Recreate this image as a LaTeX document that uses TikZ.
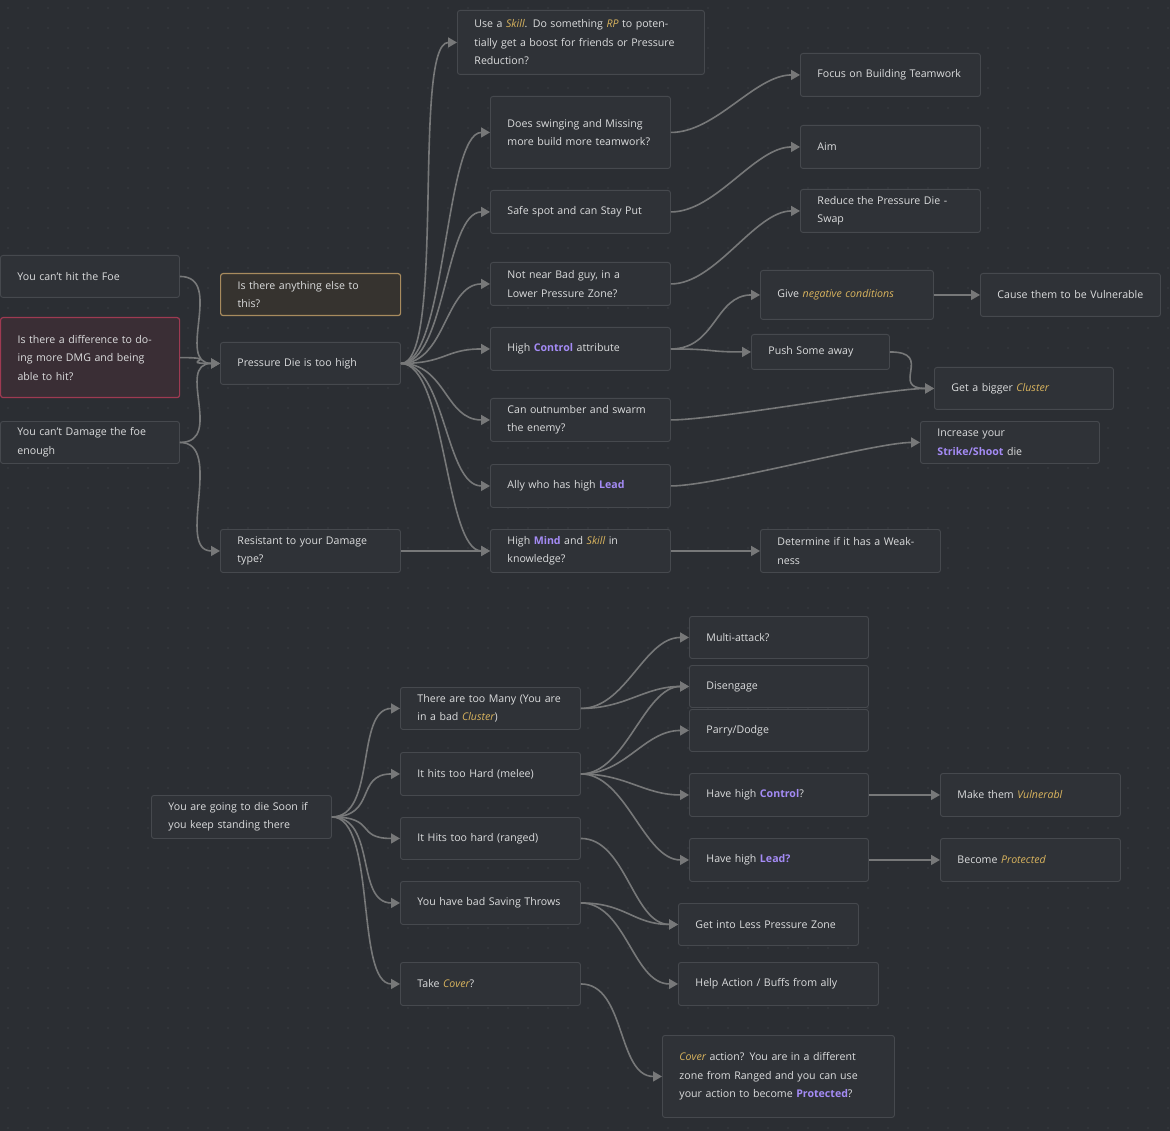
\documentclass[tikz,border=0pt]{standalone}
\usepackage{fontspec}
\setmainfont{Open Sans}
\usetikzlibrary{arrows.meta}
\definecolor{bg}{HTML}{2B2E33}
\definecolor{bfill}{HTML}{2F3237}
\definecolor{bline}{HTML}{46494E}
\definecolor{txt}{HTML}{DCDDDE}
\definecolor{edge}{HTML}{777879}
\definecolor{gold}{HTML}{D9B45E}
\definecolor{purp}{HTML}{A48BF5}
\definecolor{dotc}{HTML}{3A3D42}
\definecolor{redl}{HTML}{9E3A52}
\definecolor{redf}{HTML}{3A2E35}
\definecolor{orl}{HTML}{A88B5E}
\definecolor{orf}{HTML}{36332F}
\newcommand{\gd}[1]{\textcolor{gold}{\itshape #1}}
\newcommand{\pp}[1]{\textcolor{purp}{\bfseries #1}}
\tikzset{
 box/.style={draw=bline, fill=bfill, rounded corners=2.5pt, line width=0.9pt, text=txt, align=left, font=\fontsize{10.6}{18.5}\selectfont, inner ysep=0pt, inner xsep=17pt, anchor=north west},
 redbox/.style={box, draw=redl, fill=redf, line width=1.2pt},
 orbox/.style={box, draw=orl, fill=orf, line width=1.2pt},
 con/.style={draw=edge, line width=1.6pt, -{Triangle[length=9pt,width=10pt]}},
}
\newcommand{\bx}[7][]{%
 \pgfmathsetmacro{\ww}{#5-#3}\pgfmathsetmacro{\hh}{#6-#4}\pgfmathsetmacro{\tw}{#5-#3-34}%
 \node[box,#1,minimum width=\ww pt,minimum height=\hh pt,text width=\tw pt] (#2) at (#3,#4) {\hyphenpenalty=10000\relax #7};}
\newcommand{\cn}[2]{\draw[con] (#1.east) .. controls +(45,0) and +(-45,0) .. (#2.west);}
\begin{document}
\begin{tikzpicture}[x=1pt,y=-1pt]
\fill[bg] (0,0) rectangle (1170,1131);
\useasboundingbox (0,0) rectangle (1170,1131);
\foreach \i in {0,...,58}{\foreach \j in {0,...,56}{\fill[dotc] (\i*20+8,\j*20+8) circle (0.9);}}
\bx{A1}{0}{255}{179}{297}{You can't hit the Foe}
\bx[redbox]{A2}{0}{317}{179}{397}{Is there a difference to doing more DMG and being able to hit?}
\bx{A3}{0}{421}{179}{463}{You can't Damage the foe enough}
\bx[orbox]{B1}{220}{273}{400}{315}{Is there anything else to this?}
\bx{B2}{220}{342}{400}{384}{Pressure Die is too high}
\bx{B3}{220}{529}{400}{572}{Resistant to your Damage type?}
\bx{C0}{457}{10}{704}{74}{Use a \gd{Skill}. Do something \gd{RP} to potentially get a boost for friends or Pressure Reduction?}
\bx{C1}{490}{96}{670}{168}{Does swinging and Missing more build more teamwork?}
\bx{C2}{490}{190}{670}{233}{Safe spot and can Stay Put}
\bx{C3}{490}{262}{670}{305}{Not near Bad guy, in a Lower Pressure Zone?}
\bx{C4}{490}{327}{670}{370}{High \pp{Control} attribute}
\bx{C5}{490}{398}{670}{441}{Can outnumber and swarm the enemy?}
\bx{C6}{490}{464}{670}{507}{Ally who has high \pp{Lead}}
\bx{C7}{490}{529}{670}{572}{High \pp{Mind} and \gd{Skill} in knowledge?}
\bx{D1}{800}{53}{980}{96}{Focus on Building Teamwork}
\bx{D2}{800}{125}{980}{168}{Aim}
\bx{D3}{800}{189}{980}{232}{Reduce the Pressure Die - Swap}
\bx{D4}{760}{270}{933}{319}{Give \gd{negative conditions}}
\bx{D5}{751}{334}{889}{369}{Push Some away}
\bx{D6}{934}{367}{1113}{409}{Get a bigger \gd{Cluster}}
\bx{D7}{920}{421}{1099}{463}{Increase your\\\pp{Strike/Shoot} die}
\bx{D8}{760}{529}{940}{572}{Determine if it has a Weakness}
\bx{E1}{980}{273}{1160}{316}{Cause them to be Vulnerable}
\bx{F0}{151}{795}{331}{838}{You are going to die Soon if you keep standing there}
\bx{G1}{400}{687}{580}{729}{There are too Many (You are in a bad \gd{Cluster})}
\bx{G2}{400}{752}{580}{795}{It hits too Hard (melee)}
\bx{G3}{400}{817}{580}{859}{It Hits too hard (ranged)}
\bx{G4}{400}{881}{580}{924}{You have bad Saving Throws}
\bx{G5}{400}{962}{580}{1005}{Take \gd{Cover}?}
\bx{H1}{689}{616}{868}{658}{Multi-attack?}
\bx{H2}{689}{665}{868}{707}{Disengage}
\bx{H3}{689}{709}{868}{751}{Parry/Dodge}
\bx{H4}{689}{773}{868}{816}{Have high \pp{Control}?}
\bx{H5}{689}{838}{868}{881}{Have high \pp{Lead?}}
\bx{H6}{678}{903}{858}{945}{Get into Less Pressure Zone}
\bx{H7}{678}{962}{878}{1005}{Help Action / Buffs from ally}
\bx{H8}{662}{1035}{894}{1117}{\gd{Cover} action? You are in a different zone from Ranged and you can use your action to become \pp{Protected}?}
\bx{I1}{940}{773}{1120}{816}{Make them \gd{Vulnerabl}}
\bx{I2}{940}{838}{1120}{881}{Become \gd{Protected}}
\cn{A1}{B2}\cn{A2}{B2}\cn{A3}{B2}\cn{A3}{B3}
\foreach \t in {C0,C1,C2,C3,C4,C5,C6,C7}{\cn{B2}{\t}}
\cn{B3}{C7}
\cn{C1}{D1}\cn{C2}{D2}\cn{C3}{D3}\cn{C4}{D4}\cn{C4}{D5}\cn{C5}{D6}\cn{D5}{D6}\cn{C6}{D7}\cn{C7}{D8}\cn{D4}{E1}
\foreach \t in {G1,G2,G3,G4,G5}{\cn{F0}{\t}}
\cn{G1}{H1}\cn{G1}{H2}\cn{G2}{H2}\cn{G2}{H3}\cn{G2}{H4}\cn{G2}{H5}\cn{G3}{H6}\cn{G4}{H6}\cn{G4}{H7}\cn{G5}{H8}
\cn{H4}{I1}\cn{H5}{I2}
\end{tikzpicture}
\end{document}
